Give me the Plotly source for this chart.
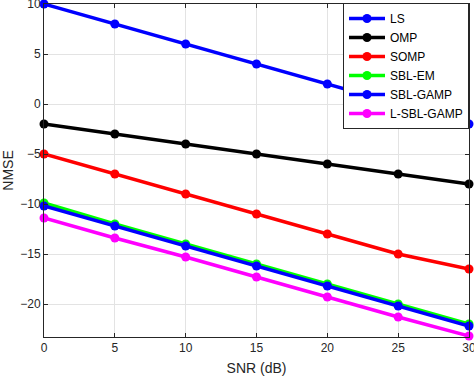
import plotly.graph_objects as go

snr = [0, 5, 10, 15, 20, 25, 30]
ls = [10, 8, 6, 4, 2, 0, -2]
omp = [-2, -3, -4, -5, -6, -7, -8]
somp = [-5, -7, -9, -11, -13, -15, -16.5]
sbl_em = [-9.9, -12.0, -14.0, -16.0, -18.0, -20.0, -22.0]
sbl_gamp = [-10.2, -12.2, -14.2, -16.2, -18.2, -20.2, -22.2]
l_sbl_gamp = [-11.4, -13.4, -15.3, -17.3, -19.3, -21.3, -23.2]

x_ticks = [0, 5, 10, 15, 20, 25, 30]
y_ticks = [-20, -15, -10, -5, 0, 5, 10]

series = [
    ("LS", ls, "#0000ff"),
    ("OMP", omp, "#000000"),
    ("SOMP", somp, "#ff0000"),
    ("SBL-EM", sbl_em, "#00ff00"),
    ("SBL-GAMP", sbl_gamp, "#0000ff"),
    ("L-SBL-GAMP", l_sbl_gamp, "#ff00ff"),
]

fig = go.Figure()
for name, vals, col in series:
    fig.add_trace(go.Scatter(
        x=snr, y=vals, name=name, mode="lines+markers",
        line=dict(color=col, width=3.5),
        marker=dict(color=col, size=9, symbol="circle"),
        cliponaxis=False,
    ))

axis_common = dict(
    showline=True, linecolor="#262626", linewidth=1, mirror="ticks",
    ticks="inside", ticklen=4, tickcolor="#262626",
    showgrid=True, gridcolor="#e3e3e3", gridwidth=1,
    zeroline=False, ticklabeloverflow="allow",
    tickfont=dict(family="Arial, Liberation Sans, sans-serif", size=12, color="#262626"),
)

fig.update_layout(
    width=474, height=378,
    margin=dict(l=44, r=5, t=4, b=41, autoexpand=False),
    paper_bgcolor="white", plot_bgcolor="white",
    font=dict(family="Arial, Liberation Sans, sans-serif", size=12, color="#262626"),
    xaxis=dict(range=[0, 30], tickvals=x_ticks,
               title=dict(text="SNR (dB)", font=dict(size=14), standoff=8), **axis_common),
    yaxis=dict(range=[-23.3, 10], tickvals=y_ticks,
               title=dict(text="NMSE", font=dict(size=14), standoff=6), **axis_common),
    legend=dict(
        x=1, y=1.003, xanchor="right", yanchor="top",
        bgcolor="white", bordercolor="#262626", borderwidth=1,
        font=dict(size=12, color="#000000"),
        itemwidth=36, tracegroupgap=0,
    ),
)

fig.write_html("out.html", config={"displayModeBar": False},
               post_script="document.body.style.margin='0';document.body.style.overflow='hidden';")
